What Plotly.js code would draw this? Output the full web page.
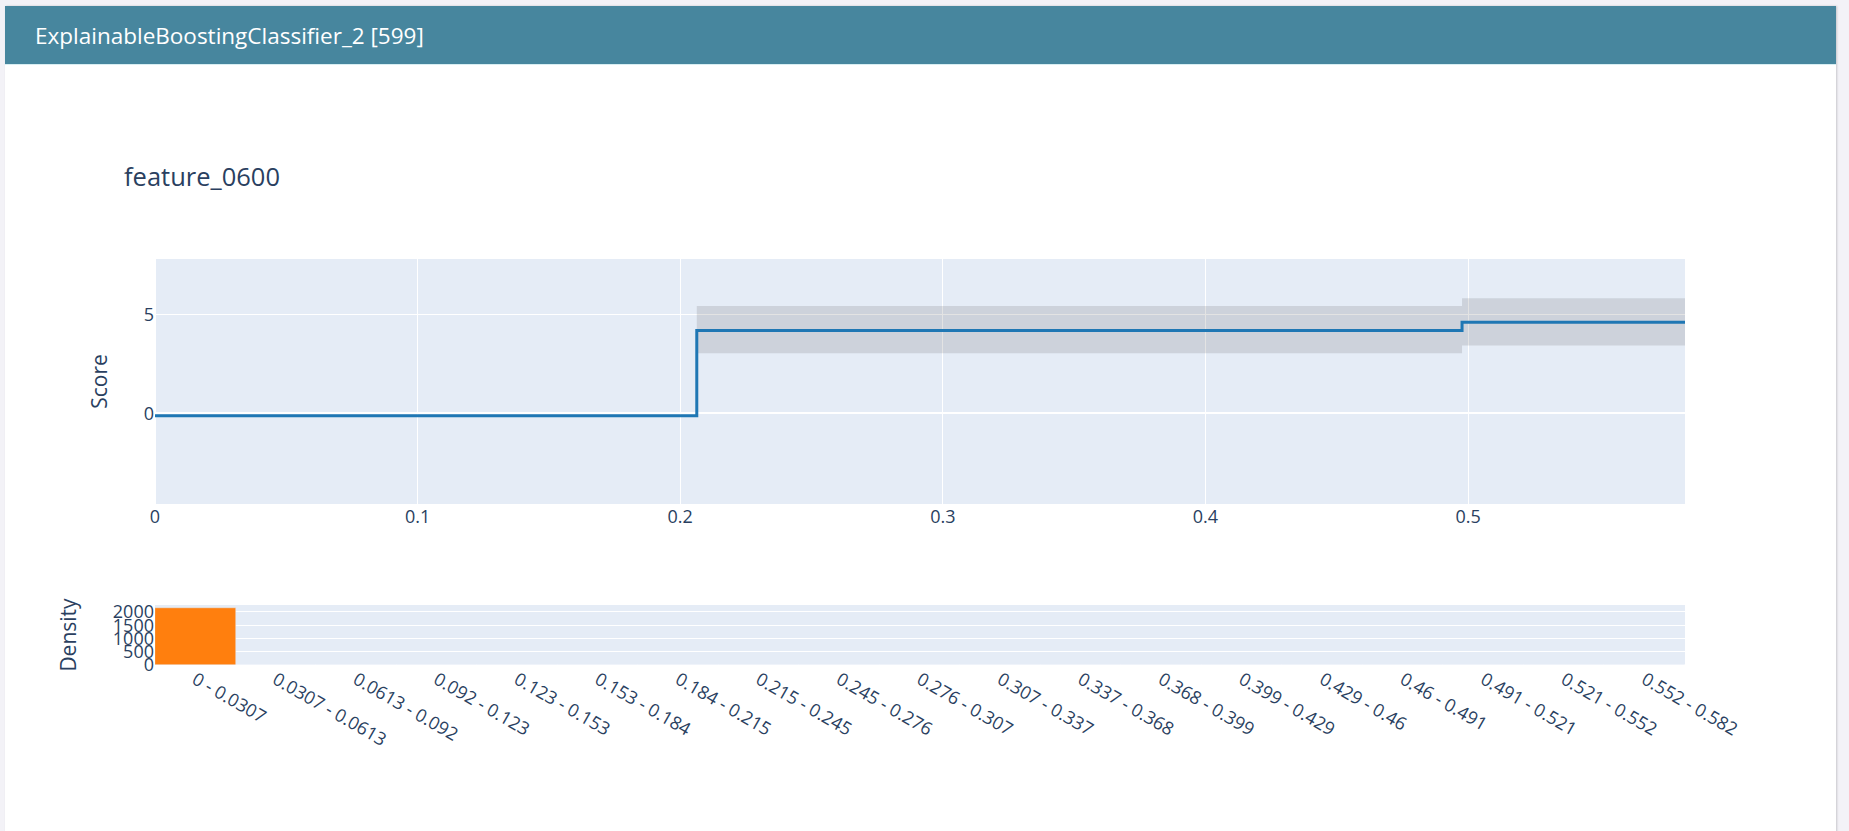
<!DOCTYPE html>
<html>
<head>
<meta charset="utf-8">
<script src="https://cdn.plot.ly/plotly-3.0.1.min.js"></script>
<style>
  html, body { margin: 0; padding: 0; width: 1849px; height: 831px; overflow: hidden; background: #f3f2f7; font-family: "Open Sans", "Noto Sans", sans-serif; }
  #card { position: absolute; left: 5px; top: 6px; width: 1831px; height: 900px; background: #ffffff; box-shadow: 1px 0 2px rgba(0,0,0,0.18); }
  #header { position: absolute; left: 0; top: 0; width: 100%; height: 59px; background: #47869e; border-bottom: 1px solid #d8eef2; color: #ffffff; font-size: 22.5px; line-height: 59px; padding-left: 30px; box-sizing: border-box; }
  #chart { position: absolute; left: 0; top: 60px; width: 1831px; height: 765px; }
</style>
</head>
<body>
<div id="card">
  <div id="header">ExplainableBoostingClassifier_2 [599]</div>
  <div id="chart"></div>
</div>
<script>
// ---- data ----
const featureName = "feature_0600";
const binEdges = [0, 0.2063, 0.4977, 0.5826];
const scores = [-0.12, 4.19, 4.61];
const upperBounds = [-0.09, 5.44, 5.83];
const lowerBounds = [-0.15, 3.04, 3.43];

const densityLabels = ["0 - 0.0307", "0.0307 - 0.0613", "0.0613 - 0.092", "0.092 - 0.123", "0.123 - 0.153",
  "0.153 - 0.184", "0.184 - 0.215", "0.215 - 0.245", "0.245 - 0.276", "0.276 - 0.307", "0.307 - 0.337",
  "0.337 - 0.368", "0.368 - 0.399", "0.399 - 0.429", "0.429 - 0.46", "0.46 - 0.491", "0.491 - 0.521",
  "0.521 - 0.552", "0.552 - 0.582"];
const densityCounts = [2150, 0, 0, 0, 0, 0, 0, 0, 0, 0, 0, 0, 0, 2, 0, 0, 0, 0, 12];

// ---- build ----
const stepY = scores.concat([scores[scores.length - 1]]);
const stepUpper = upperBounds.concat([upperBounds[upperBounds.length - 1]]);
const stepLower = lowerBounds.concat([lowerBounds[lowerBounds.length - 1]]);

const fontColor = "#2a3f5f";
const traces = [
  { x: binEdges, y: stepUpper, type: "scatter", mode: "lines", line: { shape: "hv", width: 0 },
    hoverinfo: "skip", showlegend: false, xaxis: "x", yaxis: "y" },
  { x: binEdges, y: stepLower, type: "scatter", mode: "lines", line: { shape: "hv", width: 0 },
    fill: "tonexty", fillcolor: "rgba(68, 68, 68, 0.15)", hoverinfo: "skip", showlegend: false, xaxis: "x", yaxis: "y" },
  { x: binEdges, y: stepY, type: "scatter", mode: "lines", line: { shape: "hv", width: 3, color: "rgb(31, 119, 180)" },
    showlegend: false, xaxis: "x", yaxis: "y" },
  { x: densityLabels, y: densityCounts, type: "bar", marker: { color: "#ff7f0e", line: { color: "#E5ECF6", width: 0.5 } },
    showlegend: false, xaxis: "x2", yaxis: "y2" }
];

const W = 1831, H = 765, T = 100, B = 100;
const plotH = H - T - B;
const dom = (topPx, botPx) => [(H - B - botPx) / plotH, (H - B - topPx) / plotH];

const tickFont = { family: "Open Sans, sans-serif", size: 18, color: fontColor };
const axisTitleFont = { family: "Open Sans, sans-serif", size: 21, color: fontColor };
const layout = {
  width: W, height: H,
  margin: { l: 150, r: 151, t: T, b: B, autoexpand: false },
  paper_bgcolor: "#ffffff", plot_bgcolor: "#E5ECF6",
  font: { family: "Open Sans, sans-serif", color: fontColor, size: 18 },
  title: { text: featureName, x: 119 / W, xref: "container", xanchor: "left", y: 1 - 111 / H, yanchor: "middle",
           font: { size: 25.5, color: fontColor } },
  showlegend: false,
  bargap: 0,
  xaxis: { domain: [0, 1], range: [0, 0.5826], anchor: "y", showgrid: true, gridcolor: "white", gridwidth: 1,
           zeroline: true, zerolinecolor: "white", zerolinewidth: 2, tickfont: tickFont, automargin: false,
           tickvals: [0, 0.1, 0.2, 0.3, 0.4, 0.5], ticktext: ["0", "0.1", "0.2", "0.3", "0.4", "0.5"] },
  yaxis: { domain: dom(193, 438), range: [-4.6, 7.82], anchor: "x", showgrid: true, gridcolor: "white", gridwidth: 1,
           zeroline: true, zerolinecolor: "white", zerolinewidth: 2, tickfont: tickFont, automargin: false,
           tickvals: [0, 5], ticktext: ["0", "5"],
           title: { text: "Score", font: axisTitleFont, standoff: 30 } },
  xaxis2: { domain: [0, 1], anchor: "y2", type: "category", showgrid: false, zeroline: false, tickangle: 30,
            tickfont: tickFont, automargin: false },
  yaxis2: { domain: dom(539, 599), anchor: "x2", showgrid: true, gridcolor: "white", gridwidth: 1, zeroline: true,
            zerolinecolor: "white", zerolinewidth: 2, tickfont: tickFont, automargin: false,
            tickvals: [0, 500, 1000, 1500, 2000], ticktext: ["0", "500", "1000", "1500", "2000"],
            title: { text: "Density", font: axisTitleFont, standoff: 30 } }
};

Plotly.newPlot("chart", traces, layout, { displayModeBar: false, staticPlot: false });
</script>
</body>
</html>
